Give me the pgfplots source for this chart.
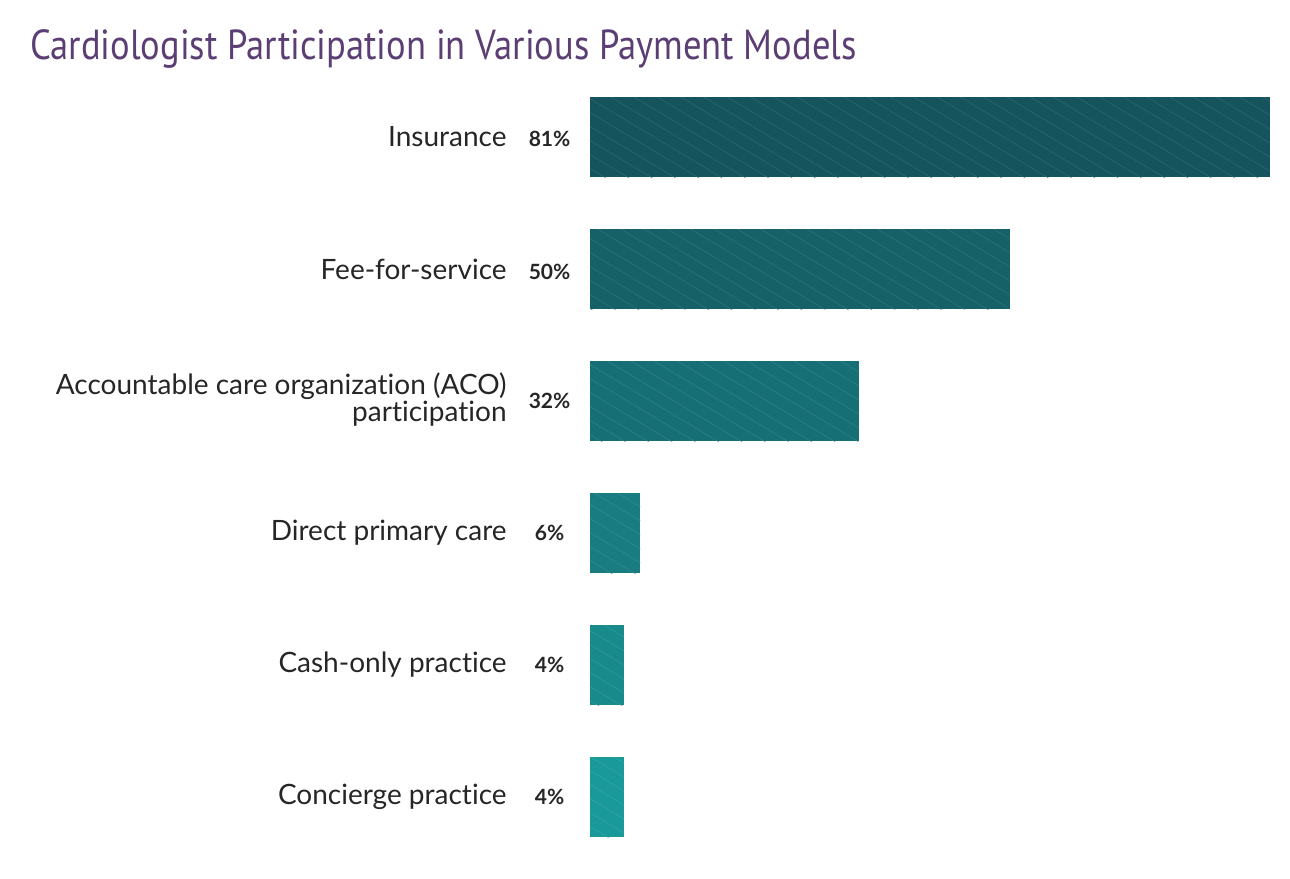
\documentclass[border=0pt]{standalone}
\usepackage{pgfplots}
\pgfplotsset{compat=1.18}
\usepackage{fontspec}
\setmainfont{Lato}[Ligatures=NoCommon]
\newfontfamily\titlefont{PT Sans}
\usetikzlibrary{patterns.meta,calc}

\definecolor{titlepurple}{RGB}{91,62,115}
\definecolor{txt}{RGB}{38,38,38}
\definecolor{ca}{RGB}{21,83,93}
\definecolor{cb}{RGB}{22,96,104}
\definecolor{cc}{RGB}{23,111,118}
\definecolor{cd}{RGB}{24,124,128}
\definecolor{ce}{RGB}{25,138,140}
\definecolor{cf}{RGB}{26,153,154}

\newcommand{\pct}[1]{\makebox[43pt]{\fontsize{10.5}{12}\selectfont\bfseries #1}}

\tikzset{stripes/.style={postaction={pattern color=#1, pattern={Lines[angle=-31,distance=6pt,line width=0.2pt]}}}}

\begin{document}
\begin{tikzpicture}
\begin{axis}[
    name=ax,
    at={(0,0)}, anchor=south west,
    scale only axis,
    width=340pt, height=396pt,
    xbar, bar width=40pt, bar shift=0pt,
    xmin=0, xmax=81,
    ymin=-0.5, ymax=5.5,
    y dir=reverse,
    hide x axis,
    axis y line*=left,
    y axis line style={draw=none},
    ytick={0,1,2,3,4,5},
    major tick length=0pt,
    yticklabel style={anchor=east, inner sep=0pt, xshift=1.5pt,
        font=\fontsize{14}{14}\selectfont, text=txt},
    yticklabels={
        {Insurance\pct{81\%}},
        {Fee-for-service\pct{50\%}},
        {\begin{tabular}{@{}r@{}}Accountable care organization (ACO)\\[-1pt]participation\end{tabular}\pct{32\%}},
        {Direct primary care\pct{6\%}},
        {Cash-only practice\pct{4\%}},
        {Concierge practice\pct{4\%}}
    },
    clip=false,
]
\addplot[fill=ca, draw=none, stripes=ca!85!white] coordinates {(81,0)};
\addplot[fill=cb, draw=none, stripes=cb!85!white] coordinates {(50,1)};
\addplot[fill=cc, draw=none, stripes=cc!85!white] coordinates {(32,2)};
\addplot[fill=cd, draw=none, stripes=cd!85!white] coordinates {(6,3)};
\addplot[fill=ce, draw=none, stripes=ce!85!white] coordinates {(4,4)};
\addplot[fill=cf, draw=none, stripes=cf!85!white] coordinates {(4,5)};
\end{axis}
\node[anchor=base west, inner sep=0pt, text=titlepurple] at ($(ax.south west)+(-280pt,401.5pt)$)
    {\titlefont\fontsize{21}{24}\selectfont\scalebox{0.87}[1]{Cardiologist Participation in Various Payment Models}};
\pgfresetboundingbox
\path ($(ax.south west)+(-295pt,-7.5pt)$) rectangle ($(ax.south west)+(350pt,431.5pt)$);
\end{tikzpicture}
\end{document}
